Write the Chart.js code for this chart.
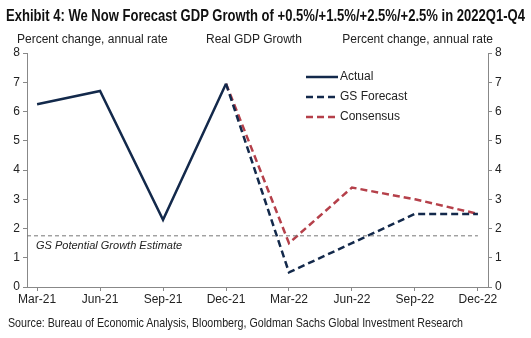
<!DOCTYPE html>
<html>
<head>
<meta charset="utf-8">
<script src="https://cdn.jsdelivr.net/npm/chart.js@4"></script>
<style>
  html, body { margin: 0; padding: 0; background: #fff; }
  #wrap { position: relative; width: 531px; height: 338px; overflow: hidden; }
  #chart { position: absolute; left: 0; top: 0; }
  .txt { position: absolute; white-space: nowrap; color: #222; }
  .fit { transform-origin: 0 0; }
  #title { left: 6px; top: 6px; font: bold 17px "Liberation Sans", Arial, sans-serif; color: #111; }
  .sub { top: 32px; font: 12px "Liberation Sans", Arial, sans-serif; }
  #source { left: 8px; top: 315px; font: 13.5px "Liberation Sans", Arial, sans-serif; }
  #potLabel { left: 36px; top: 239px; font: italic 11px "Liberation Sans", Arial, sans-serif; }
</style>
</head>
<body>
<div id="wrap">
  <canvas id="chart" width="531" height="338"></canvas>
  <div class="txt fit" id="title" data-w="519">Exhibit 4: We Now Forecast GDP Growth of +0.5%/+1.5%/+2.5%/+2.5% in 2022Q1-Q4</div>
  <div class="txt sub" style="left:17px">Percent change, annual rate</div>
  <div class="txt sub" style="left:206px">Real GDP Growth</div>
  <div class="txt sub" style="right:38px">Percent change, annual rate</div>
  <div class="txt" id="potLabel">GS Potential Growth Estimate</div>
  <div class="txt fit" id="source" data-w="455">Source: Bureau of Economic Analysis, Bloomberg, Goldman Sachs Global Investment Research</div>
</div>
<script>
// Data
const quarters = ['Mar-21', 'Jun-21', 'Sep-21', 'Dec-21', 'Mar-22', 'Jun-22', 'Sep-22', 'Dec-22'];
const actual     = [6.25, 6.7, 2.3, 6.95, null, null, null, null];
const gsForecast = [null, null, null, 6.95, 0.5, 1.5, 2.5, 2.5];
const consensus  = [null, null, null, 6.95, 1.5, 3.4, 3.0, 2.5];
const potentialGrowth = 1.75;
const yTicks = [0, 1, 2, 3, 4, 5, 6, 7, 8];

// squeeze the condensed-looking texts to their width in the original
document.querySelectorAll('.fit').forEach(el => {
    const w = el.getBoundingClientRect().width;
    el.style.transform = 'scaleX(' + (Number(el.dataset.w) / w) + ')';
});

function toPoints(arr) {
    return arr.map((v, i) => v === null ? null : { x: i, y: v }).filter(p => p);
}

const navy = '#13294b';
const red = '#b5404a';

// legend drawn inside the plot, like the original
const innerLegend = {
    id: 'innerLegend',
    afterDraw(chart) {
        const ctx = chart.ctx;
        const items = chart.data.datasets.filter(d => d.legendRank !== undefined)
            .sort((a, b) => a.legendRank - b.legendRank);
        ctx.save();
        ctx.font = '12px "Liberation Sans", Arial, sans-serif';
        ctx.textBaseline = 'middle';
        items.forEach((d, i) => {
            const y = 77 + i * 20;
            ctx.strokeStyle = d.borderColor;
            ctx.lineWidth = 2.5;
            ctx.setLineDash(d.borderDash || []);
            ctx.beginPath();
            ctx.moveTo(306, y);
            ctx.lineTo(338, y);
            ctx.stroke();
            ctx.setLineDash([]);
            ctx.fillStyle = '#222';
            ctx.fillText(d.label, 340, y);
        });
        ctx.restore();
    }
};

const tickFont = { family: '"Liberation Sans", Arial, sans-serif', size: 12 };

new Chart(document.getElementById('chart'), {
    type: 'line',
    data: {
        datasets: [
            {
                label: 'Potential',
                data: [{ x: -0.16, y: potentialGrowth }, { x: 7, y: potentialGrowth }],
                borderColor: '#777',
                borderWidth: 1,
                borderDash: [4, 3]
            },
            {
                label: 'Consensus',
                data: toPoints(consensus),
                borderColor: red,
                borderWidth: 2.5,
                borderDash: [7, 4],
                legendRank: 2,
                order: 2
            },
            {
                label: 'GS Forecast',
                data: toPoints(gsForecast),
                borderColor: navy,
                borderWidth: 2.5,
                borderDash: [7, 4],
                legendRank: 1,
                order: 1
            },
            {
                label: 'Actual',
                data: toPoints(actual),
                borderColor: navy,
                borderWidth: 2.5,
                legendRank: 0,
                order: 0
            }
        ]
    },
    options: {
        responsive: false,
        animation: false,
        events: [],
        elements: { point: { radius: 0 }, line: { tension: 0, borderJoinStyle: 'miter' } },
        layout: { padding: { top: 53, left: 0, right: 0, bottom: 0 } },
        plugins: { legend: { display: false }, tooltip: { enabled: false } },
        scales: {
            x: {
                type: 'linear',
                min: -0.16,
                max: 7.16,
                afterBuildTicks: s => { s.ticks = quarters.map((q, i) => ({ value: i })); },
                afterFit: s => { s.height = 51; },
                ticks: {
                    callback: v => quarters[v],
                    color: '#222',
                    font: tickFont,
                    padding: 1,
                    maxRotation: 0
                },
                grid: { drawOnChartArea: false, tickLength: 4, color: '#888' },
                border: { color: '#888' }
            },
            y: {
                position: 'left',
                min: 0,
                max: 8,
                afterBuildTicks: s => { s.ticks = yTicks.map(v => ({ value: v })); },
                afterFit: s => { s.width = 27; },
                ticks: { color: '#222', font: tickFont, padding: 3 },
                grid: { drawOnChartArea: false, tickLength: 4, color: '#888' },
                border: { color: '#888' }
            },
            y2: {
                position: 'right',
                min: 0,
                max: 8,
                afterBuildTicks: s => { s.ticks = yTicks.map(v => ({ value: v })); },
                afterFit: s => { s.width = 43; },
                ticks: { color: '#222', font: tickFont, padding: 3 },
                grid: { drawOnChartArea: false, tickLength: 4, color: '#888' },
                border: { color: '#888' }
            }
        }
    },
    plugins: [innerLegend]
});
</script>
</body>
</html>
